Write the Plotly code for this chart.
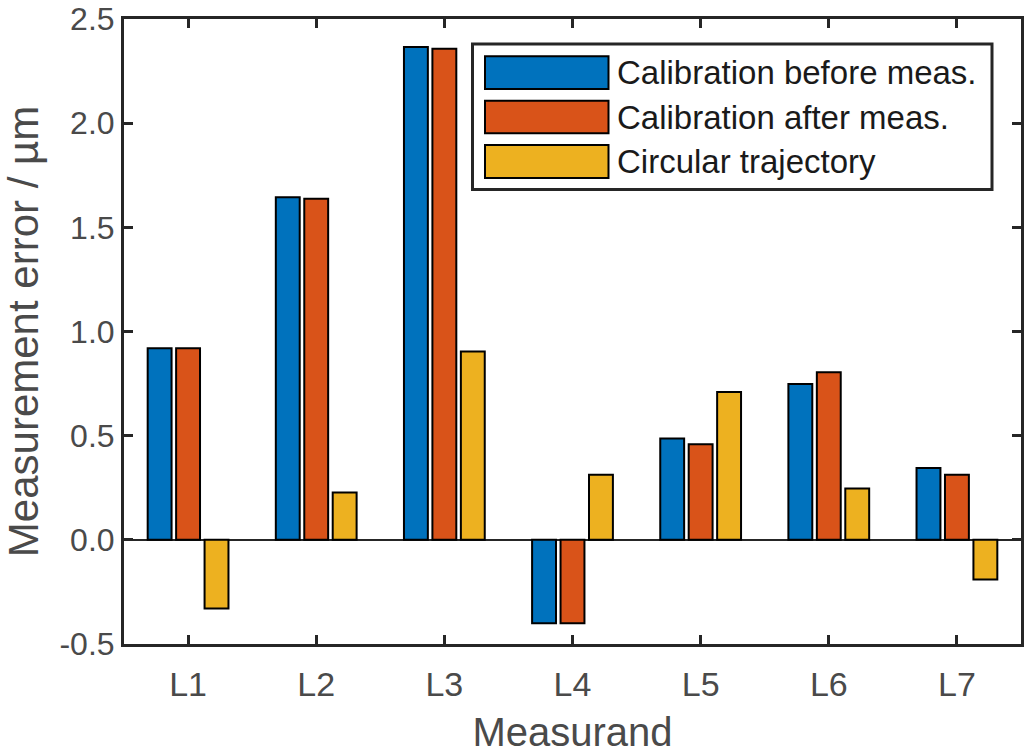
import plotly.graph_objects as go

# ---- data ----
categories = ["L1", "L2", "L3", "L4", "L5", "L6", "L7"]
series_names = ["Calibration before meas.", "Calibration after meas.", "Circular trajectory"]
cal_before = [0.92, 1.645, 2.365, -0.40, 0.487, 0.748, 0.345]
cal_after = [0.92, 1.637, 2.357, -0.40, 0.459, 0.805, 0.312]
circular = [-0.33, 0.227, 0.904, 0.312, 0.71, 0.246, -0.19]
y_ticks = [-0.5, 0.0, 0.5, 1.0, 1.5, 2.0, 2.5]
colors = ["#0072BD", "#D95319", "#EDB120"]

series_values = [cal_before, cal_after, circular]

W, H = 1025, 754
ML, MR, MT, MB = 124, 4, 19, 110
PW, PH = W - ML - MR, H - MT - MB

AX = "#262626"
LBL = "#4a4a4a"
FONT = "Liberation Sans, Arial, Helvetica, sans-serif"

fig = go.Figure()
for name, vals, col in zip(series_names, series_values, colors):
    fig.add_trace(go.Bar(
        x=categories, y=vals, name=name,
        marker=dict(color=col, line=dict(color="#000000", width=2)),
        showlegend=False,
    ))


def px_x(p):
    return (p - ML) / PW


def px_y(p):
    return (H - MB - p) / PH


shapes = []
annotations = []
# legend box
shapes.append(dict(type="rect", xref="paper", yref="paper",
                   x0=px_x(472.5), x1=px_x(992), y0=px_y(189.5), y1=px_y(44),
                   line=dict(color=AX, width=3), fillcolor="white", layer="above"))
rows = [(56.3, 89), (100.7, 133.3), (145, 178)]
for (t, b), name, col in zip(rows, series_names, colors):
    shapes.append(dict(type="rect", xref="paper", yref="paper",
                       x0=px_x(485), x1=px_x(608.5), y0=px_y(b), y1=px_y(t),
                       line=dict(color="#000000", width=2), fillcolor=col, layer="above"))
    annotations.append(dict(xref="paper", yref="paper", x=px_x(615), y=px_y((t + b) / 2),
                            text=name, showarrow=False, xanchor="left", yanchor="middle",
                            font=dict(family=FONT, size=33, color="#1a1a1a")))

fig.update_layout(
    width=W, height=H,
    margin=dict(l=ML, r=MR, t=MT, b=MB, pad=0),
    paper_bgcolor="white", plot_bgcolor="white",
    barmode="group", bargap=0.334, bargroupgap=0.16,
    font=dict(family=FONT, color=LBL),
    shapes=shapes, annotations=annotations,
    showlegend=False,
)
fig.update_xaxes(
    range=[-0.5, 6.5], showgrid=False, zeroline=False,
    showline=True, linecolor=AX, linewidth=3, mirror="allticks",
    ticks="inside", ticklen=9, tickwidth=3, tickcolor=AX,
    tickfont=dict(family=FONT, size=34, color=LBL), ticklabelstandoff=8,
    title=dict(text="Measurand", font=dict(family=FONT, size=40, color=LBL), standoff=26),
    automargin=False,
)
fig.update_yaxes(
    range=[-0.5, 2.5], tickvals=y_ticks, ticktext=[f"{v:.1f}" for v in y_ticks],
    showgrid=False, zeroline=True, zerolinecolor=AX, zerolinewidth=1.5,
    showline=True, linecolor=AX, linewidth=3, mirror="allticks",
    ticks="inside", ticklen=9, tickwidth=3, tickcolor=AX,
    tickfont=dict(family=FONT, size=32, color=LBL), ticklabeloverflow="allow",
    title=dict(text="Measurement error / µm", font=dict(family=FONT, size=42, color=LBL), standoff=16),
    automargin=False,
)

fig.write_html("out.html")
